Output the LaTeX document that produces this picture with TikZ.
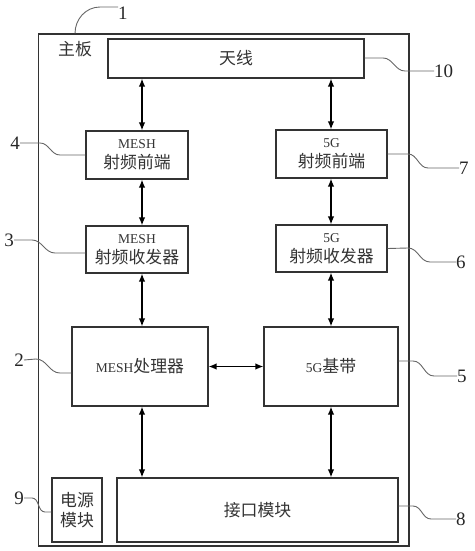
\documentclass[tikz,border=0pt]{standalone}
\usepackage{fontspec}
\setmainfont{Liberation Serif}
\newfontfamily\cjk[Scale=1.25]{Noto Sans CJK SC}
\usetikzlibrary{arrows.meta,positioning}

\begin{document}
\begin{tikzpicture}[x=1pt,y=-1pt,font=\fontsize{13.5}{20}\selectfont,
  blk/.style={draw=black!80,line width=1.1pt,inner sep=0pt,align=center,text=black!80},
  link/.style={{Latex[length=8pt,width=6.5pt]}-{Latex[length=8pt,width=6.5pt]},line width=1.4pt},
  lead/.style={draw=black!60,line width=0.9pt},
  num/.style={font=\fontsize{19}{19}\selectfont,inner sep=0pt,text=black!85}]

  \useasboundingbox (0,0) rectangle (474,551);

  \node[blk,minimum width=370.5pt,minimum height=512pt] (board) at (223.75,290) {};
  \node[text=black!80] (boardname) at (75,49) {\cjk 主板};

  \node[blk,minimum width=256pt,minimum height=39pt] (ant) at (236,58.5) {\cjk 天线};

  \node[blk,minimum width=102pt,minimum height=48pt] (mfe) at (137,155) {MESH\\\cjk 射频前端};
  \node[blk,minimum width=111pt,minimum height=48pt] (gfe) at (331.5,154) {5G\\\cjk 射频前端};
  \node[blk,minimum width=102pt,minimum height=47pt] (mtr) at (137,249.5) {MESH\\\cjk 射频收发器};
  \node[blk,minimum width=111pt,minimum height=47pt] (gtr) at (331.5,248.5) {5G\\\cjk 射频收发器};

  \node[blk,minimum width=136pt,minimum height=79pt] (proc) at (140,366.5) {MESH\cjk 处理器};
  \node[blk,minimum width=134pt,minimum height=79pt] (base) at (331,366.5) {5G\cjk 基带};

  \node[blk,minimum width=281pt,minimum height=64pt] (iface) at (257.5,510) {\cjk 接口模块};
  \node[blk,minimum width=50pt,minimum height=64pt] (pwr) at (77,510) {\cjk 电源\\\cjk 模块};

  \coordinate (colL) at (142,0);
  \coordinate (colR) at (331,0);

  \draw[link] (ant.south -| colL) -- (mfe.north -| colL);
  \draw[link] (ant.south -| colR) -- (gfe.north -| colR);
  \draw[link] (mfe.south -| colL) -- (mtr.north -| colL);
  \draw[link] (gfe.south -| colR) -- (gtr.north -| colR);
  \draw[link] (mtr.south -| colL) -- (proc.north -| colL);
  \draw[link] (gtr.south -| colR) -- (base.north -| colR);
  \draw[link] (proc.east) -- (base.west);
  \draw[link] (proc.south -| colL) -- (iface.north -| colL);
  \draw[link] (base.south -| colR) -- (iface.north -| colR);

  \node[num,anchor=west] (n1) at (118,13) {1};
  \node[num,anchor=west] (n10) at (434,71) {10};
  \node[num,anchor=east] (n4) at (20,143) {4};
  \node[num,anchor=west] (n7) at (459,168) {7};
  \node[num,anchor=east] (n3) at (14,240) {3};
  \node[num,anchor=west] (n6) at (456,262) {6};
  \node[num,anchor=east] (n2) at (24,360) {2};
  \node[num,anchor=west] (n5) at (457,376) {5};
  \node[num,anchor=east] (n9) at (24,498) {9};
  \node[num,anchor=west] (n8) at (456,519) {8};

  \begin{scope}[lead]
    \draw (board.north -| 75,0) to[out=90,in=180] (100,7) -- (n1.west |- 0,7);
    \draw (ant.east |- 0,58) -- (383,58) to[out=0,in=180] (405,71) -- (n10.west);
    \draw (mfe.west) -- (60,155) to[out=180,in=0] (40,143) -- (n4.east);
    \draw (gfe.east) -- (408,154) to[out=0,in=180] (428,168) -- (n7.west);
    \draw (mtr.west |- 0,253) -- (55,253) to[out=180,in=0] (32,240) -- (n3.east);
    \draw (gtr.east) -- (408,248) to[out=0,in=180] (430,262) -- (n6.west);
    \draw (proc.west |- 0,373) -- (60,373) to[out=180,in=0] (36,359) -- (n2.east);
    \draw (base.east |- 0,361) -- (413,361) to[out=0,in=180] (434,376) -- (n5.west);
    \draw (pwr.west |- 0,512) -- (45,512) to[out=180,in=0] (32,498) -- (n9.east);
    \draw (iface.east |- 0,506) -- (413,506) to[out=0,in=180] (431,519) -- (n8.west);
  \end{scope}
\end{tikzpicture}
\end{document}
